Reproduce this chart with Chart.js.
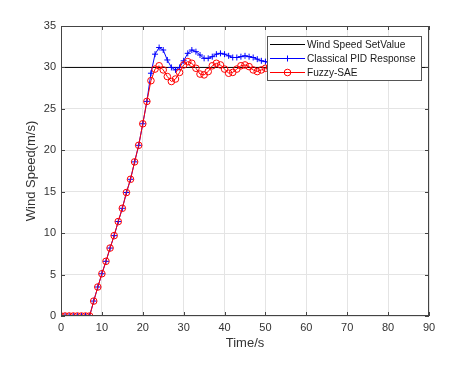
<!DOCTYPE html>
<html><head><meta charset="utf-8">
<script src="https://cdn.jsdelivr.net/npm/chart.js@4"></script>
<style>html,body{margin:0;padding:0;background:#fff}#wrap{width:474px;height:372px}</style>
</head><body><div id="wrap"><canvas id="c" width="474" height="372"></canvas></div>
<script>
const times = [0,1,2,3,4,5,6,7,8,9,10,11,12,13,14,15,16,17,18,19,20,21,22,23,24,25,26,27,28,29,30,31,32,33,34,35,36,37,38,39,40,41,42,43,44,45,46,47,48,49,50,51,52,53,54,55];
const pidValues = [0,0,0,0,0,0,0,0,1.8,3.5,5.1,6.6,8.2,9.7,11.4,13.0,14.9,16.5,18.6,20.6,23.2,25.9,29.3,31.6,32.4,32.1,30.9,30.0,29.7,30.0,30.8,31.7,32.1,31.9,31.5,31.1,31.1,31.3,31.6,31.7,31.6,31.4,31.2,31.2,31.3,31.4,31.3,31.2,31.0,30.8,30.7,30.6,30.6,30.7,30.8,30.8];
const fuzzyValues = [0,0,0,0,0,0,0,0,1.8,3.5,5.1,6.6,8.2,9.7,11.4,13.0,14.9,16.5,18.6,20.6,23.2,25.9,28.4,29.8,30.2,29.7,28.9,28.3,28.6,29.4,30.3,30.7,30.5,29.9,29.2,29.1,29.5,30.2,30.5,30.3,29.8,29.3,29.4,29.8,30.2,30.3,30.1,29.7,29.5,29.7,29.9,30.0,30.1,30.1,30.0,29.9];
const setTimes = [0, 90];
const setValues = [30, 30];
const xTicks = [0,10,20,30,40,50,60,70,80,90];
const yTicks = [0,5,10,15,20,25,30,35];
const seriesLabels = ['Wind Speed SetValue','Classical PID Response','Fuzzy-SAE'];
const xTitle = 'Time/s';
const yTitle = 'Wind Speed(m/s)';

const FONT = "'Liberation Sans', Arial, sans-serif";
const toXY = (xs, ys) => xs.map((x, i) => ({x: x, y: ys[i]}));

const framePlugin = {
  id: 'frame',
  afterDraw(chart) {
    const {ctx, chartArea: a, scales} = chart;
    ctx.save();
    ctx.strokeStyle = '#444';
    ctx.lineWidth = 1;
    ctx.beginPath();
    xTicks.forEach(v => {
      const px = Math.round(scales.x.getPixelForValue(v)) + 0.5;
      ctx.moveTo(px, a.bottom); ctx.lineTo(px, a.bottom - 4);
      ctx.moveTo(px, a.top); ctx.lineTo(px, a.top + 4);
    });
    yTicks.forEach(v => {
      const py = Math.round(scales.y.getPixelForValue(v)) + 0.5;
      ctx.moveTo(a.left, py); ctx.lineTo(a.left + 4, py);
      ctx.moveTo(a.right, py); ctx.lineTo(a.right - 4, py);
    });
    ctx.stroke();
    ctx.strokeRect(Math.round(a.left) + 0.5, Math.round(a.top) + 0.5, Math.round(a.right - a.left) - 1, Math.round(a.bottom - a.top) - 1);

    // legend
    const bx = 267.5, by = 36.5, bw = 154, bh = 44;
    ctx.fillStyle = '#fff';
    ctx.fillRect(bx, by, bw, bh);
    ctx.strokeStyle = '#555';
    ctx.strokeRect(bx, by, bw, bh);
    const rows = [44.5, 58.5, 72.5];
    const ds = chart.data.datasets;
    ds.forEach((d, i) => {
      const y = rows[i];
      ctx.strokeStyle = d.borderColor;
      ctx.lineWidth = 1;
      ctx.beginPath();
      ctx.moveTo(270, y); ctx.lineTo(305, y);
      ctx.stroke();
      if (d.pointRadius > 0) {
        ctx.fillStyle = 'rgba(0,0,0,0)';
        ctx.strokeStyle = d.pointBorderColor;
        Chart.helpers.drawPoint(ctx, {pointStyle: d.pointStyle, radius: d.pointRadius, borderWidth: 1, rotation: 0}, 287.5, y);
      }
      ctx.save();
      ctx.translate(307, y + 0.5);
      ctx.scale(0.92, 1);
      ctx.font = '11px ' + FONT;
      ctx.textBaseline = 'middle';
      ctx.textAlign = 'left';
      ctx.fillStyle = '#1a1a1a';
      ctx.fillText(d.label, 0, 0);
      ctx.restore();
    });
    ctx.restore();
  }
};

new Chart(document.getElementById('c'), {
  type: 'line',
  data: {
    datasets: [
      {label: seriesLabels[0], data: toXY(setTimes, setValues), borderColor: '#000', borderWidth: 1, pointRadius: 0, order: 3},
      {label: seriesLabels[1], data: toXY(times, pidValues), borderColor: '#0000ff', borderWidth: 1, pointStyle: 'cross', pointRadius: 3, pointBorderWidth: 1, pointBorderColor: '#0000ff', pointBackgroundColor: 'rgba(0,0,0,0)', order: 2},
      {label: seriesLabels[2], data: toXY(times, fuzzyValues), borderColor: '#ff0000', borderWidth: 1, pointStyle: 'circle', pointRadius: 3.3, pointBorderWidth: 1, pointBorderColor: '#ff0000', pointBackgroundColor: 'rgba(0,0,0,0)', order: 1}
    ]
  },
  options: {
    responsive: false,
    animation: false,
    devicePixelRatio: 1,
    layout: {padding: {left: 0, right: 45, top: 26, bottom: 0}},
    plugins: {legend: {display: false}, tooltip: {enabled: false}},
    scales: {
      x: {
        type: 'linear', min: 0, max: 90,
        afterBuildTicks: s => { s.ticks = xTicks.map(v => ({value: v})); },
        afterFit: s => { s.height = 56; },
        grid: {color: '#e4e4e4', drawTicks: false},
        border: {display: false},
        ticks: {padding: 5, color: '#333', font: {family: FONT, size: 11}, maxRotation: 0},
        title: {display: true, text: xTitle, color: '#333', font: {family: FONT, size: 13}, padding: {top: 0, bottom: 21}}
      },
      y: {
        type: 'linear', min: 0, max: 35,
        afterBuildTicks: s => { s.ticks = yTicks.map(v => ({value: v})); },
        afterFit: s => { s.width = 61; },
        grid: {color: '#e4e4e4', drawTicks: false},
        border: {display: false},
        ticks: {padding: 5, color: '#333', font: {family: FONT, size: 11}},
        title: {display: true, text: yTitle, color: '#333', font: {family: FONT, size: 13}, padding: {top: 24, bottom: 0}}
      }
    }
  },
  plugins: [framePlugin]
});
</script>
</body></html>
